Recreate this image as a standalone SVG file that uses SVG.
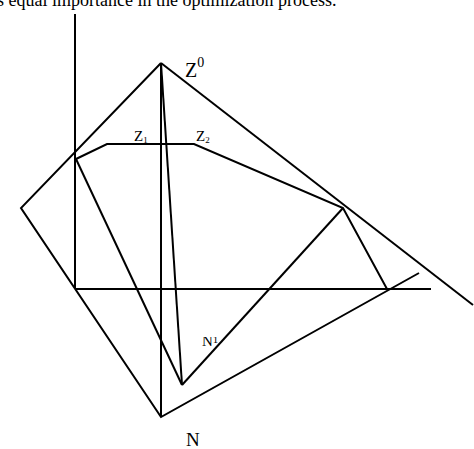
<svg xmlns="http://www.w3.org/2000/svg" width="474" height="449" viewBox="0 0 474 449">
<style>
.l{stroke:#000;stroke-width:2;fill:none;stroke-linejoin:miter}
.t{font-family:"Liberation Serif",serif;fill:#000}
</style>
<defs>
<clipPath id="clipM"><rect x="195" y="337" width="40" height="15"/></clipPath>
</defs>
<rect width="474" height="449" fill="#fff"/>
<text class="t" x="-3" y="5.5" font-size="18">s equal importance in the optimization process.</text>
<g id="connectors">
<line class="l" x1="75" y1="14" x2="75" y2="289"/>
<line class="l" x1="75" y1="289" x2="431" y2="289"/>
<polyline class="l" points="161,63 21,208 161,417 419,273"/>
<line class="l" x1="161" y1="63" x2="473" y2="305"/>
<line class="l" x1="161" y1="63" x2="161" y2="417"/>
<line class="l" x1="161" y1="63" x2="182" y2="385"/>
<polyline class="l" points="76,159 107,144 194,144 343,208 387,289"/>
<line class="l" x1="76" y1="159" x2="182" y2="385"/>
<line class="l" x1="182" y1="385" x2="343" y2="208"/>
</g>
<g id="Z0"><text class="t" x="185" y="77" font-size="20">Z<tspan dy="-10" font-size="14">0</tspan></text></g>
<g id="Z1"><text class="t" x="134" y="141" font-size="15">Z<tspan dy="2" font-size="9">1</tspan></text></g>
<g id="Z2"><text class="t" x="196" y="141" font-size="15">Z<tspan dy="2" font-size="9">2</tspan></text></g>
<g id="M1" clip-path="url(#clipM)"><text class="t" x="202" y="346" font-size="15">N<tspan dy="-3" font-size="11">1</tspan></text></g>
<g id="N"><text class="t" x="186" y="446" font-size="19">N</text></g>
</svg>
